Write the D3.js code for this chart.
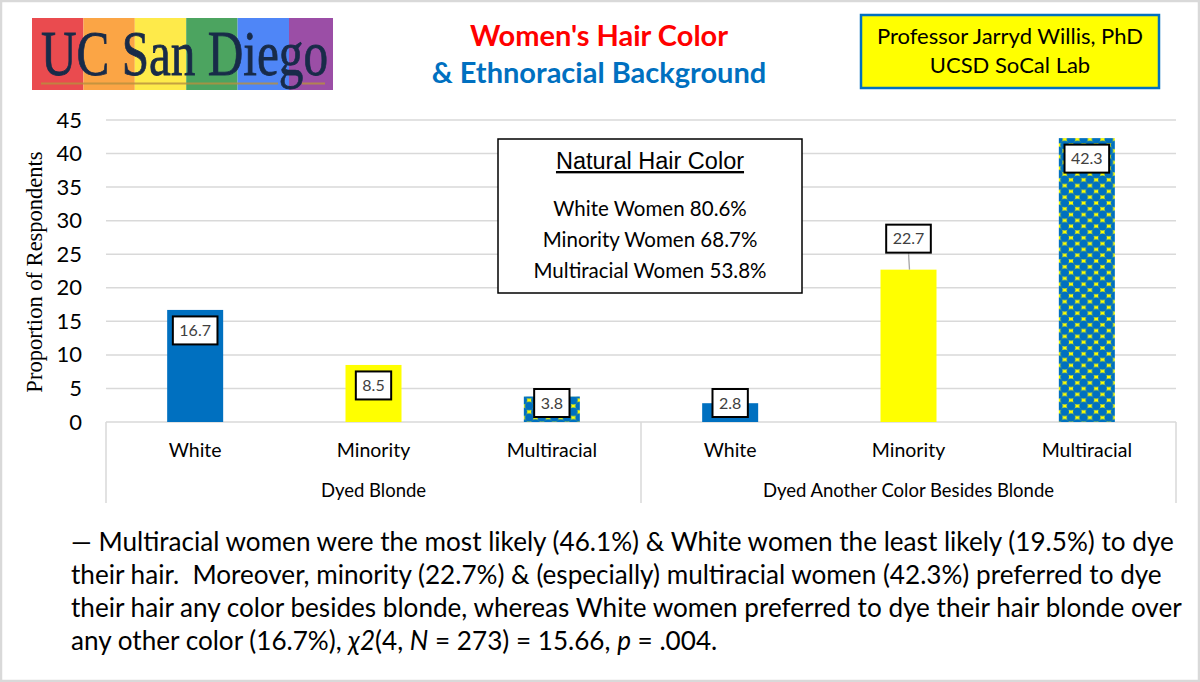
<!DOCTYPE html>
<html><head><meta charset="utf-8">
<script src="https://cdn.jsdelivr.net/npm/d3@7"></script>
<style>html,body{margin:0;padding:0;background:#fff;} svg{display:block;}</style>
</head><body>
<script>
// ---------- data ----------
const races = ["White", "Minority", "Multiracial"];
const groups = ["Dyed Blonde", "Dyed Another Color Besides Blonde"];
const dyedBlonde = [16.7, 8.5, 3.8];
const dyedOther = [2.8, 22.7, 42.3];
const yTicks = [0, 5, 10, 15, 20, 25, 30, 35, 40, 45];
const yTitle = "Proportion of Respondents";
const titleLines = ["Women's Hair Color", "& Ethnoracial Background"];
const creditLines = ["Professor Jarryd Willis, PhD", "UCSD SoCal Lab"];
const logoText = "UC San Diego";
const logoColors = ["#EA4B4F", "#FBA545", "#FEEA4A", "#4CA460", "#4F86F7", "#9B4EA6"];
const naturalTitle = "Natural Hair Color";
const naturalLines = ["White Women 80.6%", "Minority Women 68.7%", "Multiracial Women 53.8%"];
const noteLines = [
  [["— Multiracial women were the most likely (46.1%) & White women the least likely (19.5%) to dye", false]],
  [["their hair.  Moreover, minority (22.7%) & (especially) multiracial women (42.3%) preferred to dye", false]],
  [["their hair any color besides blonde, whereas White women preferred to dye their hair blonde over", false]],
  [["any other color (16.7%), ", false], ["χ2", true], ["(4, ", false], ["N", true], [" = 273) = 15.66, ", false], ["p", true], [" = .004.", false]]
];
const raceColors = {White: "#0070C0", Minority: "#FFFF00", Multiracial: "url(#multiPattern)"};

const rows = groups.flatMap((g, gi) => races.map((r, ri) => ({
  group: g, race: r, value: (gi === 0 ? dyedBlonde : dyedOther)[ri], idx: gi * 3 + ri
})));

// ---------- svg ----------
const W = 1200, H = 682;
const FONT = "Lato, 'Open Sans', sans-serif";
const svg = d3.select("body").append("svg").attr("width", W).attr("height", H)
  .style("font-family", FONT);

// pattern
const defs = svg.append("defs");
const PW = 12.6, PH = 11.6;
const pat = defs.append("pattern").attr("id", "multiPattern").attr("patternUnits", "userSpaceOnUse")
  .attr("width", PW).attr("height", PH);
pat.append("rect").attr("width", PW).attr("height", PH).attr("fill", "#FFFF00");
[[0, 0], [PW, 0], [0, PH], [PW, PH], [PW / 2, PH / 2]].forEach(([cx, cy]) => {
  pat.append("circle").attr("cx", cx).attr("cy", cy).attr("r", 4.4).attr("fill", "#0070C0");
});

// outer frame
svg.append("rect").attr("x", 1).attr("y", 1).attr("width", W - 2).attr("height", H - 2)
  .attr("fill", "none").attr("stroke", "#d9d9d9").attr("stroke-width", 2.5);

// ---------- logo ----------
const logo = svg.append("g");
const lx0 = 32, lx1 = 333, sw = 51.4;
logoColors.forEach((c, i) => {
  const x = lx0 + i * sw;
  logo.append("rect").attr("x", x).attr("y", 18).attr("width", Math.min(sw, lx1 - x)).attr("height", 72).attr("fill", c);
});
logo.append("line").attr("x1", 41).attr("x2", 278).attr("y1", 83.5).attr("y2", 83.5).attr("stroke", "#B8903E").attr("stroke-width", 2).attr("opacity", 0.8);
logo.append("line").attr("x1", 302).attr("x2", 325).attr("y1", 83.5).attr("y2", 83.5).attr("stroke", "#B8903E").attr("stroke-width", 2).attr("opacity", 0.8);
logo.append("text").attr("x", 41).attr("y", 75).text(logoText)
  .attr("font-family", "'Liberation Serif', 'DejaVu Serif', serif").attr("font-size", 63)
  .attr("fill", "#182B49").attr("stroke", "#182B49").attr("stroke-width", 0.8)
  .attr("textLength", 287).attr("lengthAdjust", "spacingAndGlyphs");

// ---------- title ----------
svg.append("text").attr("x", 599).attr("y", 46).attr("text-anchor", "middle")
  .attr("font-weight", 700).attr("font-size", 29).attr("fill", "#FF0000").text(titleLines[0]);
svg.append("text").attr("x", 599).attr("y", 83).attr("text-anchor", "middle")
  .attr("font-weight", 700).attr("font-size", 29).attr("fill", "#0070C0").text(titleLines[1]);

// ---------- credit box ----------
svg.append("rect").attr("x", 861).attr("y", 15).attr("width", 298).attr("height", 73)
  .attr("fill", "#FFFF00").attr("stroke", "#0070C0").attr("stroke-width", 2.5);
creditLines.forEach((t, i) => {
  svg.append("text").attr("x", 1010).attr("y", 44 + i * 29).attr("text-anchor", "middle")
    .attr("font-size", 22).attr("fill", "#000").text(t);
});

// ---------- scales ----------
const x0 = d3.scaleBand().domain(groups).range([106, 1176]);
const x1 = d3.scaleBand().domain(races).range([0, x0.bandwidth()]).paddingInner(0.686).paddingOuter(0.343);
const y = d3.scaleLinear().domain([0, 45]).range([422, 120]);

// gridlines
svg.append("g").selectAll("line").data(yTicks).join("line")
  .attr("x1", 106).attr("x2", 1176).attr("y1", d => y(d)).attr("y2", d => y(d))
  .attr("stroke", "#d9d9d9").attr("stroke-width", 1.5);

// y axis
const yAxis = svg.append("g").attr("transform", "translate(106,0)")
  .call(d3.axisLeft(y).tickValues(yTicks).tickSize(0).tickPadding(24));
yAxis.select(".domain").remove();
yAxis.selectAll("text").attr("font-family", FONT).attr("font-size", 22).attr("fill", "#000");

svg.append("text").attr("transform", "translate(42,272) rotate(-90)").attr("text-anchor", "middle")
  .attr("font-family", "'Liberation Serif', serif").attr("font-size", 22.5).attr("fill", "#000").text(yTitle);

// category axis frame
const bounds = [106, ...groups.map(g => x0(g) + x0.bandwidth())];
svg.append("g").selectAll("line").data(bounds).join("line")
  .attr("x1", d => d).attr("x2", d => d).attr("y1", 422).attr("y2", 503)
  .attr("stroke", "#d9d9d9").attr("stroke-width", 1.5);

// race labels
svg.append("g").selectAll("text").data(rows).join("text")
  .attr("x", d => x0(d.group) + x1(d.race) + x1.bandwidth() / 2).attr("y", 457)
  .attr("text-anchor", "middle").attr("font-size", 19.5).attr("fill", "#000").text(d => d.race);
// group labels
svg.append("g").selectAll("text").data(groups).join("text")
  .attr("x", d => x0(d) + x0.bandwidth() / 2).attr("y", 497)
  .attr("text-anchor", "middle").attr("font-size", 18.5).attr("fill", "#000").text(d => d);

// bars
svg.append("g").selectAll("rect").data(rows).join("rect")
  .attr("x", d => x0(d.group) + x1(d.race)).attr("width", x1.bandwidth())
  .attr("y", d => y(d.value)).attr("height", d => y(0) - y(d.value))
  .attr("fill", d => raceColors[d.race]);

// data labels
const lab = svg.append("g");
rows.forEach(d => {
  const cx = x0(d.group) + x1(d.race) + x1.bandwidth() / 2;
  const top = y(d.value);
  const bh = 28;
  let by = Math.min(top + 6.5, y(0) - 5 - bh);
  const above = (d.idx === 4);
  if (above) by = top - 17 - bh;
  const t = lab.append("text").attr("x", cx).attr("text-anchor", "middle")
    .attr("font-size", 16).attr("fill", "#404040").text(d.value.toFixed(1));
  const tw = t.node().getComputedTextLength();
  const bw = tw + 13;
  if (above) {
    lab.insert("line", "text").attr("x1", cx).attr("x2", cx + 1).attr("y1", by + bh).attr("y2", top)
      .attr("stroke", "#a6a6a6").attr("stroke-width", 1.3);
  }
  lab.insert("rect", "text").attr("x", cx - bw / 2).attr("y", by).attr("width", bw).attr("height", bh)
    .attr("fill", "#fff").attr("stroke", "#000").attr("stroke-width", 2);
  t.attr("y", by + bh / 2 + 5.5);
});

// natural hair color box
svg.append("rect").attr("x", 498).attr("y", 139).attr("width", 304).attr("height", 154)
  .attr("fill", "#fff").attr("stroke", "#000").attr("stroke-width", 1.5);
svg.append("text").attr("x", 650).attr("y", 169).attr("text-anchor", "middle")
  .attr("font-family", "'Liberation Sans', Arial, sans-serif").attr("font-size", 23.5)
  .attr("text-decoration", "underline").attr("fill", "#000").text(naturalTitle);
naturalLines.forEach((t, i) => {
  svg.append("text").attr("x", 650).attr("y", 216 + i * 31).attr("text-anchor", "middle")
    .attr("font-size", 20.5).attr("fill", "#000").text(t);
});

// note paragraph
const note = svg.append("g").attr("font-size", 22).attr("fill", "#000");
const noteTexts = noteLines.map((parts, i) => {
  const t = note.append("text").attr("x", 71).attr("y", 551 + i * 33).attr("xml:space", "preserve")
    .style("white-space", "pre");
  parts.forEach(([s, it]) => t.append("tspan").attr("font-style", it ? "italic" : "normal").text(s));
  return t;
});
const w1 = noteTexts[0].node().getComputedTextLength();
note.attr("font-size", 22 * 1103 / w1);
</script>
</body></html>
